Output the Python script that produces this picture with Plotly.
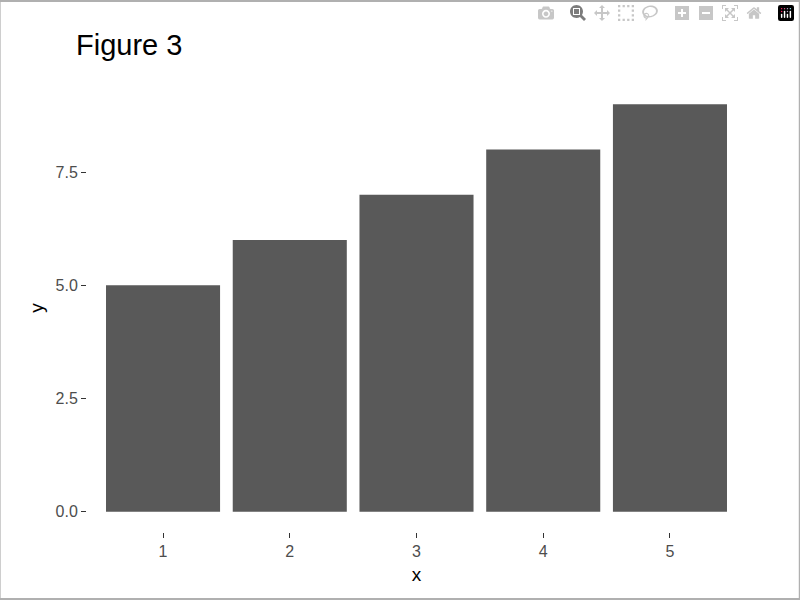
import plotly.graph_objects as go

x_vals = [1, 2, 3, 4, 5]
y_vals = [5, 6, 7, 8, 9]
y_ticks = [0, 2.5, 5, 7.5]
y_labels = ["0.0", "2.5", "5.0", "7.5"]

fig = go.Figure(go.Bar(x=x_vals, y=y_vals, width=0.9, marker=dict(color="#595959", line_width=0)))

fig.update_layout(
    width=800, height=600,
    paper_bgcolor="white", plot_bgcolor="white",
    margin=dict(l=87, r=54, t=84, b=68),
    font=dict(family="Arial, Liberation Sans", color="#4d4d4d", size=16),
    title=dict(text="Figure 3", x=0.095, xanchor="left", y=0.925, yanchor="middle",
               font=dict(size=29, color="black")),
    showlegend=False,
    shapes=[dict(type="rect", xref="paper", yref="paper", x0=-0.1326, x1=1.0816, y0=-0.1496, y1=1.1852,
                 line=dict(color="#b0b0b0", width=2), fillcolor="rgba(0,0,0,0)", layer="below")],
)
fig.update_xaxes(range=[0.4, 5.6], tickvals=x_vals, ticks="outside", ticklen=5, tickcolor="#333",
                 showgrid=False, zeroline=False, showline=False,
                 title=dict(text="x", font=dict(size=19, color="black"), standoff=8))
fig.update_yaxes(range=[-0.45, 9.45], tickvals=y_ticks, ticktext=y_labels, ticks="outside", ticklen=5,
                 tickcolor="#333", showgrid=False, zeroline=False, showline=False,
                 title=dict(text="y", font=dict(size=19, color="black"), standoff=6))

# page body margin would shift the figure
fig.write_html("out.html", post_script="document.body.style.margin='0';")
